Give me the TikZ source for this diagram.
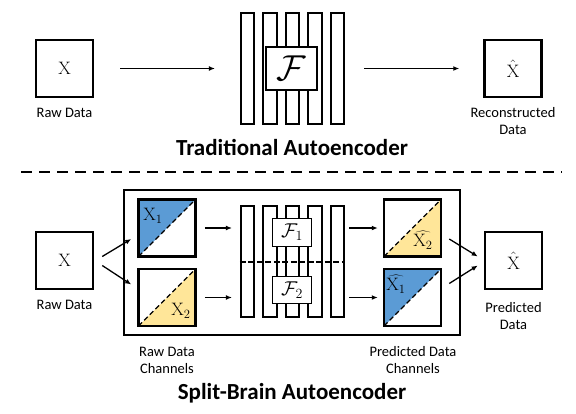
\RequirePackage{fix-cm}
\documentclass[tikz,border=0pt]{standalone}
\usepackage[no-math]{fontspec}
\setmainfont{Carlito}
\usetikzlibrary{arrows.meta}
\definecolor{chanblue}{HTML}{5B9BD5}
\definecolor{chanyellow}{HTML}{FFE699}
\begin{document}
\begin{tikzpicture}[x=1pt, y=-1pt,
    imgbox/.style={draw, line width=2.5pt, minimum size=57pt, inner sep=0pt},
    layer/.style={draw, line width=1.6pt, minimum width=13.5pt, minimum height=111.5pt, inner sep=0pt},
    fbox/.style={draw, fill=white, line width=1.6pt, inner sep=0pt},
    arr/.style={-{Latex[length=6pt,width=5pt]}, line width=1.3pt},
    txt/.style={align=center, font=\fontsize{14.5}{17}\selectfont},
    title/.style={font=\fontsize{23}{26}\selectfont\bfseries},
    diag/.style={dash pattern=on 5pt off 3pt, line width=1.4pt},
    blueup/.style={imgbox, path picture={
        \fill[chanblue] (path picture bounding box.north west) -- (path picture bounding box.north east)
            -- (path picture bounding box.south west) -- cycle;
        \draw[diag] (path picture bounding box.south west) -- (path picture bounding box.north east);}},
    yellowdown/.style={imgbox, path picture={
        \fill[chanyellow] (path picture bounding box.south east) -- (path picture bounding box.north east)
            -- (path picture bounding box.south west) -- cycle;
        \draw[diag] (path picture bounding box.south west) -- (path picture bounding box.north east);}},
    big/.style={font=\fontsize{18}{18}\selectfont}
  ]
\useasboundingbox (0,0) rectangle (576,413);

% traditional autoencoder
\node[imgbox, big] (xin) at (64.5,68.5) {$\mathrm{X}$};
\node[txt] (xinlab) at (64.5,113) {Raw Data};
\foreach \i in {1,...,5}
    \node[layer] (t\i) at (225+22.5*\i,68.5) {};
\node[fbox, minimum width=51pt, minimum height=43pt] (f) at (291.5,68.5) {\fontsize{36}{36}\selectfont$\mathcal{F}$};
\node[imgbox, big] (xout) at (513,68.5) {$\hat{\mathrm{X}}$};
\node[txt] (xoutlab) at (513,121.5) {Reconstructed\\Data};
\draw[arr, shorten <=26pt, shorten >=25pt] (xin.east) -- (t1.west);
\draw[arr, shorten <=19pt, shorten >=24pt] (t5.east) -- (xout.west);
\node[title] (toptitle) at (292,147) {Traditional Autoencoder};

\draw[line width=2.5pt, dash pattern=on 11pt off 7pt] (21,172) -- (562,172);

% split-brain autoencoder
\node[draw, line width=2.2pt, minimum width=336pt, minimum height=145pt] (split) at (292,262.5) {};
\node[imgbox, big] (xb) at (64.5,260.5) {$\mathrm{X}$};
\node[txt] (xblab) at (64.5,305) {Raw Data};
\node[blueup] (c1) at (167,228) {};
\node[yellowdown] (c2) at (167,297.5) {};
\node[big] at (153,216) {$\mathrm{X}_1$};
\node[big] at (181,311) {$\mathrm{X}_2$};
\foreach \i in {1,...,5}
    \node[layer] (b\i) at (225+22.5*\i,261.5) {};
\draw[line width=2pt, dash pattern=on 6pt off 2.5pt] (b1.west) -- (b5.east);
\node[fbox, minimum width=39pt, minimum height=28pt] (f1) at (292,232.5) {\fontsize{20}{20}\selectfont$\mathcal{F}_1$};
\node[fbox, minimum width=39pt, minimum height=27pt] (f2) at (292,290) {\fontsize{20}{20}\selectfont$\mathcal{F}_2$};
\node[yellowdown] (p2) at (412.5,228) {};
\node[blueup] (p1) at (412.5,297.5) {};
\node[big] at (423,240) {$\widehat{\mathrm{X}_2}$};
\node[big] at (396,284) {$\widehat{\mathrm{X}_1}$};
\node[imgbox, big] (xp) at (513.5,260.5) {$\hat{\mathrm{X}}$};
\node[txt] (xplab) at (513.5,316.5) {Predicted\\Data};
\node[txt] (clab) at (167,360) {Raw Data\\Channels};
\node[txt] (plab) at (413,360) {Predicted Data\\Channels};
\draw[arr] ([xshift=8pt,yshift=4pt]xb.east) -- ([xshift=-6pt,yshift=-11pt]c1.west);
\draw[arr] ([xshift=8pt,yshift=-5pt]xb.east) -- ([xshift=-6pt,yshift=13pt]c2.west);
\draw[arr, shorten <=8pt, shorten >=8pt] (c1.east) -- (c1.east -| b1.west);
\draw[arr, shorten <=8pt, shorten >=8pt] (c2.east) -- (c2.east -| b1.west);
\draw[arr, shorten <=4pt, shorten >=5pt] (p2.west -| b5.east) -- (p2.west);
\draw[arr, shorten <=4pt, shorten >=5pt] (p1.west -| b5.east) -- (p1.west);
\draw[arr] ([xshift=7pt,yshift=-11pt]p2.east) -- ([xshift=-6pt,yshift=4pt]xp.west);
\draw[arr] ([xshift=7pt,yshift=14pt]p1.east) -- ([xshift=-6pt,yshift=-5pt]xp.west);
\node[title] (bottitle) at (292,393) {Split-Brain Autoencoder};
\end{tikzpicture}
\end{document}
